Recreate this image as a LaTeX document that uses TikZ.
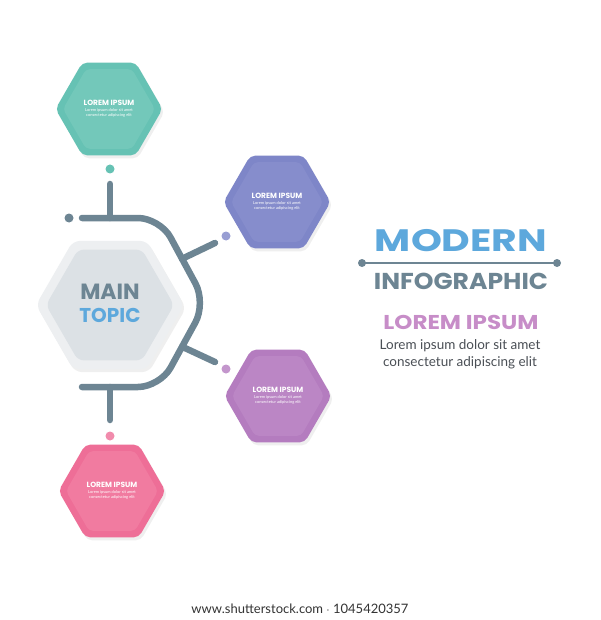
\documentclass[tikz,border=0pt]{standalone}
\usepackage{fontspec}
\setmainfont{Lato}
\newfontfamily\headfont{Poppins}
\usetikzlibrary{shapes.geometric,shadows,calc}

\definecolor{slate}{HTML}{6D8593}
\definecolor{tealout}{HTML}{66C2B4}
\definecolor{tealin}{HTML}{73C8BA}
\definecolor{lavout}{HTML}{7E86C8}
\definecolor{lavin}{HTML}{868DCC}
\definecolor{mauveout}{HTML}{B47CBF}
\definecolor{mauvein}{HTML}{BB86C5}
\definecolor{pinkout}{HTML}{EE6E97}
\definecolor{pinkin}{HTML}{F17BA0}
\definecolor{mainout}{HTML}{EDEFF1}
\definecolor{mainin}{HTML}{DCE1E5}
\definecolor{topicblue}{HTML}{5DA8DC}
\definecolor{lorempink}{HTML}{C78DC8}
\definecolor{bodygray}{HTML}{4A4F55}

\begin{document}
\begin{tikzpicture}[x=1pt, y=-1pt,
  hexout/.style={regular polygon, regular polygon sides=6, minimum size=107pt,
    inner sep=0pt, rounded corners=5pt,
    drop shadow={opacity=0.12, shadow xshift=2pt, shadow yshift=-3pt}},
  hexin/.style={regular polygon, regular polygon sides=6, minimum size=92pt,
    inner sep=0pt, rounded corners=4pt},
  hextitle/.style={text=white, font=\headfont\bfseries\fontsize{7.5}{8}\selectfont},
  hexbody/.style={text=white, align=center, font=\fontsize{4}{5.5}\selectfont},
  dot/.style={circle, inner sep=0pt, minimum size=9pt},
  hub/.style={draw=slate, line width=6.5pt, line cap=round}]

\useasboundingbox[fill=white] (0,0) rectangle (600,620);

% --- Coordenadas del conector central ---
\coordinate (hubTL) at (82,218);
\coordinate (hubT)  at (160,218);
\coordinate (hubR)  at (206,303);
\coordinate (hubB)  at (160,387);
\coordinate (hubBL) at (82,387);

\coordinate (upA) at ($(hubT)!0.48!(hubR)$);  % rama superior
\coordinate (upB) at (215,243);
\coordinate (loA) at ($(hubR)!0.52!(hubB)$);  % rama inferior
\coordinate (loB) at (215,362);

\coordinate (stT) at (110,184);
\coordinate (stB) at (110,420);

% --- Conector ---
\draw[hub, rounded corners=22pt] (hubTL) -- (hubT) -- (hubR) -- (hubB) -- (hubBL);
\draw[hub] (upA) -- (upB);
\draw[hub] (loA) -- (loB);
\draw[hub] (stT) -- (110,218);
\draw[hub] (110,387) -- (stB);

% --- Puntos ---
\node[dot, fill=slate]    (dotL)  at (69,218)  {};
\node[dot, fill=tealout]  (dotT)  at (110,169) {};
\node[dot, fill=lavout!80]  (dotU)  at (226,236) {};
\node[dot, fill=mauveout!80] (dotD) at (226,369) {};
\node[dot, fill=pinkout!80]  (dotB) at (110,436) {};

% --- Hexagono central ---
\node[hexout, minimum size=148pt, fill=mainout, rounded corners=7pt] (main) at (110,305) {};
\node[hexin, minimum size=128pt, fill=mainin, rounded corners=6pt] (mainIn) at (main) {};
\node[font=\headfont\bfseries\fontsize{22}{22}\selectfont, text=slate] (mainT) at (110,292) {MAIN};
\node[font=\headfont\bfseries\fontsize{20}{20}\selectfont, text=topicblue] (topicT) at (110,315) {TOPIC};

% --- Hexagonos de color ---
\foreach \name/\pos/\col in {teal/{(109,109)}/teal, lav/{(277,202)}/lav,
                             mauve/{(278,396)}/mauve, pink/{(112,491)}/pink} {
  \node[hexout, fill=\col out] (\name) at \pos {};
  \node[hexin, fill=\col in] (\name In) at (\name) {};
  \node[hextitle] (\name Title) at ([yshift=6pt]\name.center) {LOREM IPSUM};
  \node[hexbody] (\name Body) at ([yshift=-4pt]\name.center)
    {Lorem ipsum dolor sit amet\\consectetur adipiscing elit};
}

% --- Titulo ---
\node[font=\headfont\bfseries\fontsize{31}{31}\selectfont, text=topicblue] (modern) at (461,241)
  {\scalebox{1.27}[1]{MODERN}};
\coordinate (lnL) at (362,263);
\coordinate (lnR) at (557,263);
\draw[slate, line width=2.5pt] (lnL) -- (lnR);
\fill[slate] (lnL) circle (4pt) (lnR) circle (4pt);
\node[font=\headfont\bfseries\fontsize{23}{23}\selectfont, text=slate] (infog) at (461,281)
  {\scalebox{1.09}[1]{INFOGRAPHIC}};
\node[font=\headfont\bfseries\fontsize{20}{20}\selectfont, text=lorempink] (lorem) at (461,322)
  {\scalebox{1.15}[1]{LOREM IPSUM}};
\node[font=\fontsize{13.5}{17}\selectfont, text=bodygray, align=center] (body) at (460,354)
  {Lorem ipsum dolor sit amet\\consectetur adipiscing elit};

% --- Pie ---
\node[font=\fontsize{13}{13}\selectfont, text=black!80] (foot) at (300,609)
  {www.shutterstock.com $\cdot$ 1045420357};

\end{tikzpicture}
\end{document}
